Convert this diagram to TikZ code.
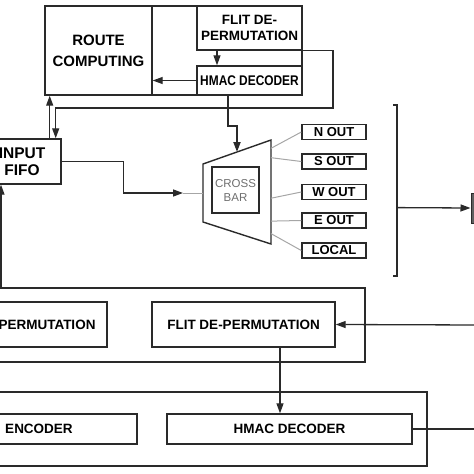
\documentclass[tikz,border=0pt]{standalone}
\usepackage{fontspec}
\setmainfont{Liberation Sans}
\newfontfamily\narrowfont[FakeStretch=0.85]{Liberation Sans}
\usetikzlibrary{arrows.meta,calc}

\definecolor{ink}{HTML}{2A2A2A}
\definecolor{wiregray}{HTML}{A6A6A6}
\definecolor{xbgray}{HTML}{6E6E6E}

\tikzset{
	blk/.style={draw=ink, line width=1.4pt, rectangle, inner sep=0pt, align=center},
	frm/.style={draw=ink, line width=1.4pt, rectangle, inner sep=0pt},
	arr/.style={draw=ink, line width=1.3pt, -{Triangle[length=10pt,width=7pt]}},
	ln/.style={draw=ink, line width=1.3pt},
	grayline/.style={draw=wiregray, line width=1pt},
	outbox/.style={blk, minimum width=64pt, minimum height=15pt, font=\bfseries\fontsize{13}{15}\selectfont},
}

\begin{document}
\begin{tikzpicture}[x=1pt, y=-1pt]
	\clip (0,0) rectangle (474,474);
	
	%router block on top
	\node[frm, minimum width=257pt, minimum height=89pt] (router) at (173.5,50.5) {};
	\node[blk, minimum width=107pt, minimum height=89pt, font=\bfseries\fontsize{15}{21}\selectfont] (route) at (98.5,50.5) {ROUTE\\COMPUTING};
	\node[blk, minimum width=105pt, minimum height=44pt, font=\bfseries\fontsize{13.5}{16}\selectfont] (fdp) at (249.5,28) {FLIT DE-\\PERMUTATION};
	\node[blk, minimum width=105pt, minimum height=29pt, font=\narrowfont\bfseries\fontsize{14}{16}\selectfont] (hmac) at (249.5,80.5) {HMAC DECODER};
	
	%input fifo
	\node[blk, minimum width=78pt, minimum height=45pt, font=\bfseries\fontsize{15.5}{16.5}\selectfont] (fifo) at (22,161.5) {INPUT\\FIFO};
	
	%crossbar corners and inner box
	\coordinate (xtl) at (203,164); \coordinate (xbl) at (203,222);
	\coordinate (xtr) at (271,140); \coordinate (xbr) at (271,244);
	\draw[ln, line width=1.4pt] (xtl) -- (xtr) -- (xbr) -- (xbl) -- cycle;
	\node[blk, line width=1.3pt, minimum width=47pt, minimum height=46pt, text=xbgray, font=\fontsize{11.5}{14}\selectfont] (xbar) at (235.5,190) {CROSS\\BAR};
	
	%output ports
	\foreach \o/\y/\t in {nout/132/N OUT, sout/161.5/S OUT, wout/192/W OUT, eout/220.5/E OUT, lcl/250.5/LOCAL}
	\node[outbox] (\o) at (334,\y) {\t};
	
	%destination block at the right
	\node[draw=ink, fill=ink!75, line width=1pt, minimum width=14pt, minimum height=30pt, inner sep=0pt] (dst) at (478,208) {};
	
	%permutation and encoder stages below
	\node[frm, minimum width=435pt, minimum height=74pt] (permframe) at (147.5,325) {};
	\node[blk, minimum width=120pt, minimum height=45pt, font=\bfseries\fontsize{13.5}{16}\selectfont] (fpm) at (47,324.5) {PERMUTATION};
	\node[blk, minimum width=183pt, minimum height=45pt, font=\bfseries\fontsize{13.5}{16}\selectfont] (fdpb) at (243.5,324.5) {FLIT DE-PERMUTATION};
	\node[frm, minimum width=497pt, minimum height=74pt] (encframe) at (178.5,429) {};
	\node[blk, minimum width=196pt, minimum height=30pt, font=\bfseries\fontsize{13.5}{16}\selectfont] (enc) at (39,429) {ENCODER};
	\node[blk, minimum width=245pt, minimum height=30pt, font=\bfseries\fontsize{13.5}{16}\selectfont] (hmacb) at (289.5,429) {HMAC DECODER};
	
	%arrows inside the router block
	\draw[arr] ([xshift=-32.5pt]fdp.south) -- ([xshift=-32.5pt]hmac.north);
	\draw[arr] (hmac.west) -- (hmac.west -| route.east);
	
	%fifo to route computing and back
	\coordinate (fbk) at (333,108);
	\coordinate (upA) at ([xshift=-12pt]fifo.north east);
	\coordinate (dnA) at ([xshift=-6pt]fifo.north east);
	\draw[arr] (fdp.south west) -| (fbk) -| (dnA);
	\draw[arr] (upA) -- (upA |- route.south);
	
	%decoder and fifo into the crossbar
	\coordinate (xtop) at ($(xtl)!0.5!(xtr)$);
	\draw[arr, line width=2pt] ([xshift=-21.5pt]hmac.south) -- ++(0,30) -| (xtop);
	\coordinate (xin) at ($(xtl)!0.5!(xbl)$);
	\coordinate (fend) at (183,193);
	\draw[arr] (fifo.east) -- ++(62,0) |- (fend);
	\draw[grayline] (fend) -- (xin);
	
	%crossbar to the output ports
	\foreach \o/\f in {nout/0.08, sout/0.17, wout/0.56, eout/0.78, lcl/0.9}
	\draw[grayline] ($(xtr)!\f!(xbr)$) -- (\o.west);
	
	%bracket and arrow to the right
	\coordinate (bt) at (397,105); \coordinate (bb) at (397,276);
	\draw[ln] ([xshift=-4pt]bt) -- (bt) -- (bb) -- ([xshift=-4pt]bb);
	\draw[arr] ($(bt)!0.6!(bb)$) -- (dst.west);
	
	%lower stage connectors
	\coordinate (rin) at (480,325);
	\draw[arr] (rin) -- (fdpb.east);
	\coordinate (dn) at ([xshift=36.5pt]fdpb.south);
	\draw[arr] (dn) -- (dn |- hmacb.north);
	\coordinate (rout) at (480,429);
	\draw[ln] (hmacb.east) -- (rout);
	\coordinate (lin) at (1,288);
	\draw[arr] (lin) -- (lin |- fifo.south);
\end{tikzpicture}
\end{document}
